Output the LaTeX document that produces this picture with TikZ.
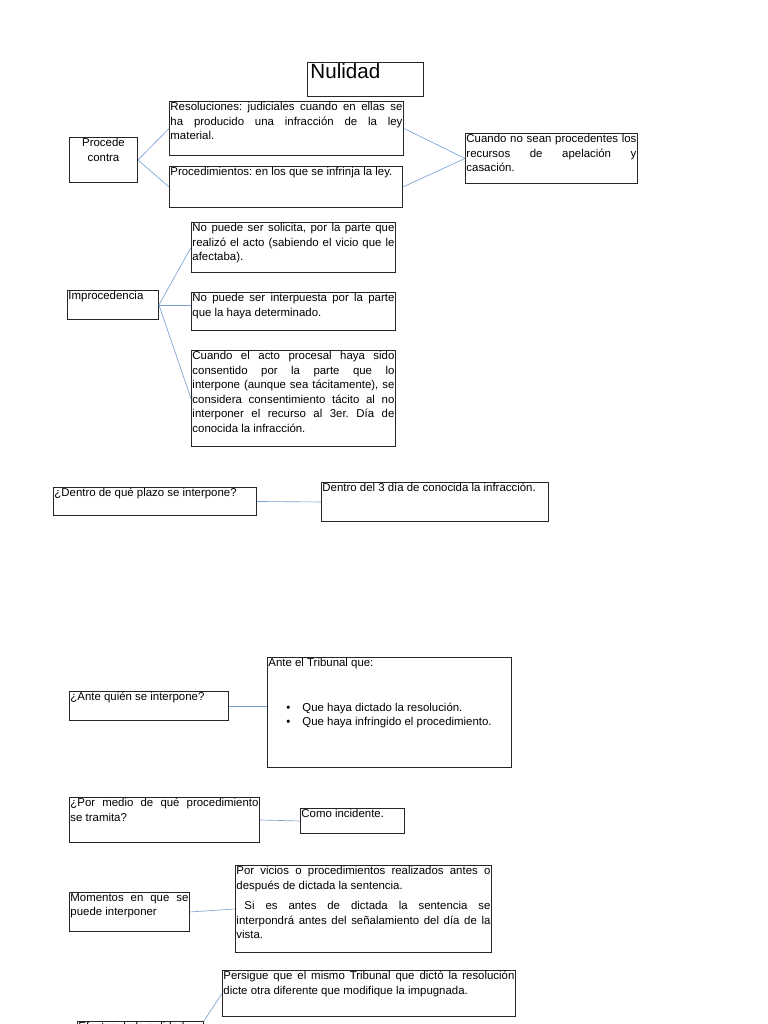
\documentclass[tikz,border=0pt]{standalone}
\usepackage{fontspec}
\setmainfont{Liberation Sans}
\definecolor{LinkBlue}{RGB}{120,160,210}
\newdimen\px \px=0.797pt
\frenchspacing
% top aligned text inside a box of w x h (reference pixels)
\newcommand{\celltext}[3]{\parbox[t][\dimexpr#2\px-1.6pt\relax][t]{\dimexpr#1\px-1.6pt\relax}{\hyphenpenalty=10000\tolerance=9999\hbadness=10000#3}}
\tikzset{
  cellbox/.style={draw=black!85, line width=0.75pt, inner sep=0.8pt,
    anchor=north west, font=\fontsize{9.1}{11.6}\selectfont},
  link/.style={draw=LinkBlue, line width=0.5pt},
}

\begin{document}
\begin{tikzpicture}[x=0.797pt, y=-0.797pt]
  \useasboundingbox (0,0) rectangle (768,1024);
  \fill[white] (0,0) rectangle (768,1024);
  \clip (0,0) rectangle (768,1024);

  % title
  \node[cellbox] (title) at (307,62) {\celltext{116}{34}{\fontsize{16.4}{19}\selectfont\hspace*{2\px}Nulidad}};

  % procede contra
  \node[cellbox] (procede) at (69,137) {\celltext{68}{45}{\centering Procede\\contra}};
  \node[cellbox] (resol) at (169,101) {\celltext{234}{54}{Resoluciones: judiciales cuando en ellas se\linebreak ha producido una infracción de la ley\linebreak material.}};
  \node[cellbox] (proced) at (169,166) {\celltext{233}{41}{Procedimientos: en los que se infrinja la ley.}};
  \node[cellbox] (recursos) at (465,133) {\celltext{172}{50}{Cuando no sean procedentes los\linebreak recursos de apelación y\linebreak casación.}};
  \draw[link] (procede.east) -- (resol.west);
  \draw[link] (procede.east) -- (proced.west);
  \draw[link] (resol.east) -- (recursos.west);
  \draw[link] (proced.east) -- (recursos.west);

  % improcedencia
  \node[cellbox] (improc) at (67,290) {\celltext{91}{29}{Improcedencia}};
  \node[cellbox] (solicita) at (191,222) {\celltext{204}{50}{No puede ser solicita, por la parte que\linebreak realizó el acto (sabiendo el vicio que le\linebreak afectaba).}};
  \node[cellbox] (interpuesta) at (191,292) {\celltext{204}{38}{No puede ser interpuesta por la parte\linebreak que la haya determinado.}};
  \node[cellbox] (consentido) at (191,350) {\celltext{204}{96}{Cuando el acto procesal haya sido\linebreak consentido por la parte que lo\linebreak interpone (aunque sea tácitamente), se\linebreak considera consentimiento tácito al no\linebreak interponer el recurso al 3er. Día de\linebreak conocida la infracción.}};
  \draw[link] (improc.east) -- (solicita.west);
  \draw[link] (improc.east) -- (interpuesta.west |- improc.east);
  \draw[link] (improc.east) -- (consentido.west);

  % plazo
  \node[cellbox] (plazo) at (53,487) {\celltext{203}{28}{¿Dentro de qué plazo se interpone?}};
  \node[cellbox] (dentro) at (321,482) {\celltext{227}{39}{Dentro del 3 día de conocida la infracción.}};
  \draw[link] (plazo.east) -- (dentro.west);

  % ante quien
  \node[cellbox] (ante) at (69,691) {\celltext{159}{29}{¿Ante quién se interpone?}};
  \node[cellbox] (tribunal) at (267,657) {\celltext{244}{110}{Ante el Tribunal que:\par\vspace{30\px}%
    \leftskip=18\px\textbullet\hspace{12\px}Que haya dictado la resolución.\par
    \textbullet\hspace{12\px}Que haya infringido el procedimiento.}};
  \draw[link] (ante.east) -- (tribunal.west |- ante.east);

  % tramite
  \node[cellbox] (medio) at (69,797) {\celltext{190}{45}{¿Por medio de qué procedimiento\linebreak se tramita?}};
  \node[cellbox] (incidente) at (300,808) {\celltext{104}{25}{Como incidente.}};
  \draw[link] (medio.east) -- (incidente.west);

  % momentos
  \node[cellbox] (momentos) at (69,892) {\celltext{120}{39}{Momentos en que se\linebreak puede interponer}};
  \node[cellbox] (vicios) at (235,865) {\celltext{256}{87}{Por vicios o procedimientos realizados antes o\linebreak después de dictada la sentencia.\par\vspace{6\px}%
    \hspace*{8\px}Si es antes de dictada la sentencia se\linebreak interpondrá antes del señalamiento del día de la\linebreak vista.}};
  \draw[link] (momentos.east) -- (vicios.west);

  % efectos
  \node[cellbox] (persigue) at (222,970) {\celltext{293}{46}{Persigue que el mismo Tribunal que dictó la resolución\linebreak dicte otra diferente que modifique la impugnada.}};
  \node[cellbox] (efectos) at (77,1021) {\celltext{126}{30}{Efectos de la nulidad}};
  \draw[link] (persigue.west) -- (efectos.north east);
\end{tikzpicture}
\end{document}
